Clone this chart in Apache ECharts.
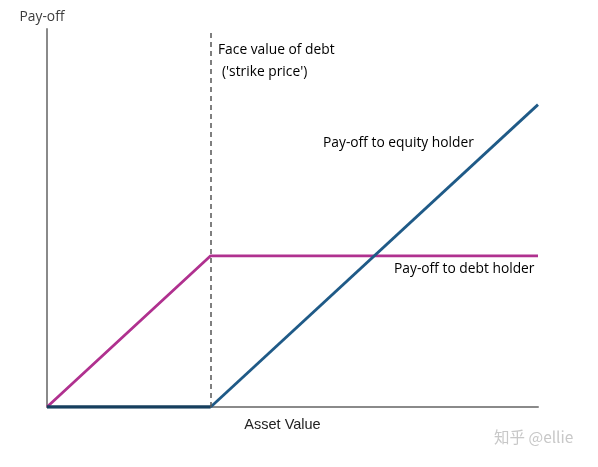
<!DOCTYPE html>
<html>
<head>
<meta charset="utf-8">
<script src="https://cdn.jsdelivr.net/npm/echarts@6/dist/echarts.min.js"></script>
<style>
  html, body { margin: 0; padding: 0; background: #fff; }
  #chart { width: 598px; height: 467px; }
</style>
</head>
<body>
<div id="chart"></div>
<script>
// payoff diagram: debt vs equity holder
var assetValues  = [0, 10, 30];
var faceValue    = 10;
var debtPayoff   = [0, 10, 10];
var equityPayoff = [0, 0, 20];

var xMax = 30, yMax = 25;

function pairs(xs, ys) {
  return xs.map(function (x, i) { return [x, ys[i]]; });
}

var chart = echarts.init(document.getElementById('chart'));
var txt = { fontFamily: "'Open Sans', sans-serif", fontSize: 13.8, color: '#3c3c3c' };

chart.setOption({
  animation: false,
  grid: { left: 47, right: 60, top: 29, bottom: 60 },
  xAxis: {
    type: 'value', min: 0, max: xMax,
    name: 'Asset Value', nameLocation: 'middle', nameGap: 10,
    nameTextStyle: { fontFamily: "'Liberation Sans', Arial", fontSize: 14.5, color: '#222', padding: [0, 20, 0, 0] },
    axisLine: { lineStyle: { color: '#8a8a8a', width: 2 } },
    axisTick: { show: false }, axisLabel: { show: false }, splitLine: { show: false }
  },
  yAxis: {
    type: 'value', min: 0, max: yMax,
    name: 'Pay-off', nameLocation: 'end', nameGap: 5,
    nameTextStyle: Object.assign({}, txt, { align: 'center', padding: [0, 0, 0, -10] }),
    axisLine: { show: true, lineStyle: { color: '#8a8a8a', width: 2 } },
    axisTick: { show: false }, axisLabel: { show: false }, splitLine: { show: false }
  },
  series: [
    {
      name: 'Pay-off to debt holder', type: 'line', symbol: 'none', z: 3,
      data: pairs(assetValues, debtPayoff),
      lineStyle: { color: '#b0318f', width: 2.8 },
      markLine: {
        silent: true, symbol: 'none', label: { show: false },
        lineStyle: { color: '#555', type: [5, 4], width: 1.5 },
        data: [[{ coord: [faceValue, 0] }, { coord: [faceValue, yMax] }]]
      }
    },
    {
      name: 'Pay-off to equity holder', type: 'line', symbol: 'none', z: 4,
      data: pairs(assetValues.slice(1), equityPayoff.slice(1)),
      lineStyle: { color: '#1f5a87', width: 2.8 }
    },
    {
      name: 'equity flat', type: 'line', symbol: 'none', z: 4,
      data: pairs(assetValues.slice(0, 2), equityPayoff.slice(0, 2)),
      lineStyle: { color: '#163f5e', width: 3.5 }
    }
  ],
  graphic: [
    { type: 'text', left: 218, top: 43, style: Object.assign({ text: 'Face value of debt' }, txt) },
    { type: 'text', left: 222, top: 65, style: Object.assign({ text: "('strike price')" }, txt) },
    { type: 'text', left: 323, top: 136, style: Object.assign({ text: 'Pay-off to equity holder' }, txt) },
    { type: 'text', left: 394, top: 262, style: Object.assign({ text: 'Pay-off to debt holder' }, txt) },
    { type: 'text', left: 494, top: 429, style: { text: '知乎 @ellie', fontFamily: "'Noto Sans CJK SC', sans-serif", fontSize: 15.5, fill: '#c8c8c8' } }
  ]
});
</script>
</body>
</html>
